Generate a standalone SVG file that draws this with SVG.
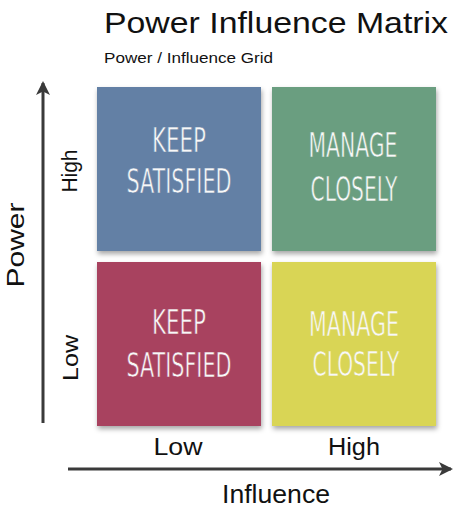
<svg xmlns="http://www.w3.org/2000/svg" width="474" height="513" viewBox="0 0 474 513">
<defs>
<filter id="sh" x="-10%" y="-10%" width="130%" height="130%">
<feDropShadow dx="1" dy="3" stdDeviation="2.5" flood-color="#000" flood-opacity="0.35"/>
</filter>
<marker id="ah" viewBox="0 0 14 14" refX="12" refY="7" markerWidth="14" markerHeight="14" markerUnits="userSpaceOnUse" orient="auto">
<path d="M0,0 L14,7 L0,14 L3.5,7 Z" fill="#3a3a3a"/>
</marker>
<style>
.t{font-family:"Liberation Sans","Open Sans",sans-serif;fill:#111}
.b{font-family:"Liberation Sans Narrow","DejaVu Sans Condensed","Liberation Sans",sans-serif;font-size:34px;fill:#f8f8f8;text-anchor:middle;stroke-width:0.6;paint-order:normal}
.ax{stroke:#3a3a3a;stroke-width:3;fill:none;marker-end:url(#ah)}
</style>
</defs>
<rect width="474" height="513" fill="#fff"/>
<text class="t" x="104" y="33" font-size="29" textLength="344" lengthAdjust="spacingAndGlyphs">Power Influence Matrix</text>
<text class="t" x="104" y="63" font-size="14" textLength="169" lengthAdjust="spacingAndGlyphs">Power / Influence Grid</text>

<g id="connectors">
<line class="ax" x1="43" y1="423" x2="43" y2="83"/>
<line class="ax" x1="68" y1="469" x2="451" y2="469"/>
</g>

<g id="axis-labels">
<text class="t" font-size="23" text-anchor="middle" transform="translate(24,245) rotate(-90)" textLength="85" lengthAdjust="spacingAndGlyphs">Power</text>
<text class="t" font-size="22" text-anchor="middle" transform="translate(77,171) rotate(-90)" textLength="43" lengthAdjust="spacingAndGlyphs">High</text>
<text class="t" font-size="22" text-anchor="middle" transform="translate(78,358) rotate(-90)" textLength="46" lengthAdjust="spacingAndGlyphs">Low</text>
<text class="t" font-size="23" text-anchor="middle" x="178" y="455" textLength="49" lengthAdjust="spacingAndGlyphs">Low</text>
<text class="t" font-size="23" text-anchor="middle" x="354" y="455" textLength="52" lengthAdjust="spacingAndGlyphs">High</text>
<text class="t" font-size="25" text-anchor="middle" x="276" y="503" textLength="108" lengthAdjust="spacingAndGlyphs">Influence</text>
</g>

<g id="high-power-low-influence">
<rect x="97" y="87" width="164" height="164" fill="#6480a5" filter="url(#sh)"/>
<text class="b" stroke="#6480a5" x="179" y="152" textLength="54" lengthAdjust="spacingAndGlyphs">KEEP</text>
<text class="b" stroke="#6480a5" x="179" y="193" textLength="105" lengthAdjust="spacingAndGlyphs">SATISFIED</text>
</g>
<g id="high-power-high-influence">
<rect x="272" y="87" width="164" height="164" fill="#6a9e80" filter="url(#sh)"/>
<text class="b" stroke="#6a9e80" x="353" y="157" textLength="89" lengthAdjust="spacingAndGlyphs">MANAGE</text>
<text class="b" stroke="#6a9e80" x="354" y="201" textLength="87" lengthAdjust="spacingAndGlyphs">CLOSELY</text>
</g>
<g id="low-power-low-influence">
<rect x="97" y="262" width="164" height="164" fill="#a8425f" filter="url(#sh)"/>
<text class="b" stroke="#a8425f" x="179" y="334" textLength="54" lengthAdjust="spacingAndGlyphs">KEEP</text>
<text class="b" stroke="#a8425f" x="179" y="377" textLength="105" lengthAdjust="spacingAndGlyphs">SATISFIED</text>
</g>
<g id="low-power-high-influence">
<rect x="272" y="262" width="164" height="164" fill="#d9d554" filter="url(#sh)"/>
<text class="b" stroke="#d9d554" x="354" y="336" textLength="90" lengthAdjust="spacingAndGlyphs">MANAGE</text>
<text class="b" stroke="#d9d554" x="356" y="376" textLength="87" lengthAdjust="spacingAndGlyphs">CLOSELY</text>
</g>
</svg>
